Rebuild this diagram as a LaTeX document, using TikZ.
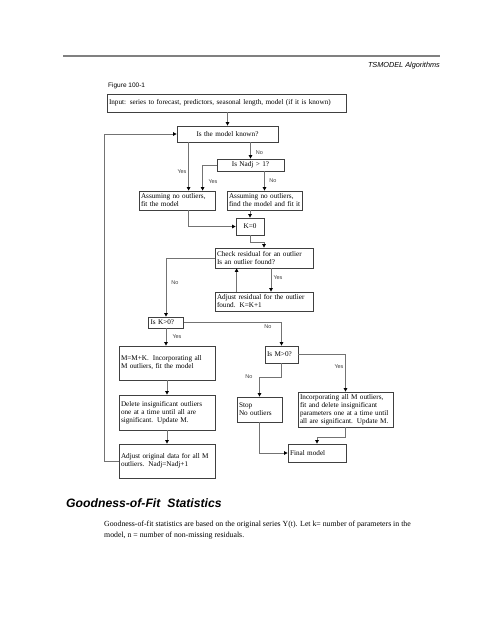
\documentclass[tikz,border=0pt]{standalone}
\usepackage{fontspec}
\setmainfont{Liberation Serif}
\setsansfont{Liberation Sans}
\usetikzlibrary{arrows.meta,calc}
\begin{document}
\begin{tikzpicture}[x=1pt,y=-1pt,
  box/.style={draw=black!75, line width=0.8pt, rectangle, inner xsep=2pt, inner ysep=0pt,
    font=\fontsize{7.2}{8}\selectfont},
  lbox/.style={box, align=left},
  cbox/.style={box, align=center},
  arr/.style={draw=black!55, line width=0.8pt, -{Triangle[length=3.5pt,width=3.5pt,black]}},
  lab/.style={font=\sffamily\fontsize{5.5}{6}\selectfont, text=black!75, inner sep=0pt}]
\fill[white] (0,0) rectangle (495,640);
\useasboundingbox (0,0) rectangle (495,640);

% page header
\coordinate (hl) at (63,56);
\coordinate (hr) at (440,56);
\draw[black!50, line width=2pt] (hl) -- (hr);
\node[anchor=base east, inner sep=0pt, font=\sffamily\itshape\fontsize{7.3}{8}\selectfont] (hdr) at (440,67) {TSMODEL Algorithms};
\node[anchor=base west, inner sep=0pt, font=\sffamily\fontsize{6.5}{7}\selectfont] (fig) at (108,87) {Figure 100-1};

% boxes
\node[lbox, minimum width=239pt, minimum height=18pt, text width=235pt] (input) at (226.5,103)
  {\mbox{Input: series to forecast, predictors, seasonal length, model (if it is known)}};
\node[cbox, minimum width=101pt, minimum height=16pt, text width=97pt] (known) at (227.5,134) {Is the model known?};
\node[cbox, minimum width=67pt, minimum height=12pt, text width=63pt] (nadj) at (250.5,165) {Is Nadj > 1?};
\node[lbox, minimum width=76pt, minimum height=19pt, text width=72pt] (assume) at (177,200.5)
  {\mbox{Assuming no outliers,}\\\mbox{fit the model}};
\node[lbox, minimum width=75pt, minimum height=19pt, text width=71pt] (find) at (264.5,200.5)
  {\mbox{Assuming no outliers,}\\\mbox{find the model and fit it}};
\node[cbox, minimum width=28pt, minimum height=17pt, text width=24pt] (kzero) at (250,226.5) {K=0};
\node[lbox, minimum width=98pt, minimum height=20pt, text width=94pt] (check) at (264,258)
  {\mbox{Check residual for an outlier}\\\mbox{Is an outlier found?}};
\node[lbox, minimum width=98pt, minimum height=19pt, text width=94pt] (adjres) at (264,301.5)
  {\mbox{Adjust residual for the outlier}\\\mbox{found.\hspace{4pt}K=K+1}};
\node[lbox, minimum width=35pt, minimum height=11pt, text width=31pt] (isk) at (166,322.5) {\mbox{Is K>0?}};
\node[lbox, minimum width=96pt, minimum height=34pt, text width=92pt] (mbox) at (167,363)
  {\mbox{M=M+K.\hspace{4pt}Incorporating all}\\\mbox{M outliers, fit the model}};
\node[lbox, minimum width=96pt, minimum height=35pt, text width=92pt] (del) at (167,412.5)
  {\mbox{Delete insignificant outliers}\\\mbox{one at a time until all are}\\\mbox{significant.\hspace{4pt}Update M.}};
\node[lbox, minimum width=96pt, minimum height=34pt, text width=92pt] (adjorig) at (167,461)
  {\mbox{Adjust original data for all M}\\\mbox{outliers.\hspace{4pt}Nadj=Nadj+1}};
\node[lbox, minimum width=33pt, minimum height=17pt, text width=29pt] (ism) at (281.5,354.5) {\mbox{Is M>0?}};
\node[lbox, minimum width=45pt, minimum height=25pt, text width=41pt] (stop) at (259.5,409.5)
  {\mbox{Stop}\\\mbox{No outliers}};
\node[lbox, minimum width=95pt, minimum height=35pt, text width=91pt] (incorp) at (345.5,409.5)
  {\mbox{Incorporating all M outliers,}\\\mbox{fit and delete insignificant}\\\mbox{parameters one at a time until}\\\mbox{all are significant.\hspace{4pt}Update M.}};
\node[lbox, minimum width=58pt, minimum height=18pt, text width=54pt] (final) at (317,453) {\mbox{Final model}};

% connectors
\draw[arr] (known.north |- input.south) -- (known.north);
\draw[arr] (nadj.north |- known.south) -- (nadj.north);
\draw[arr] ([xshift=12pt]known.south west) -- ([xshift=50pt]assume.north west);
\draw[arr] (nadj.west) -| ([xshift=64pt]assume.north west);
\draw[arr] (find.north |- nadj.south) -- (find.north);
\draw[arr] ([xshift=50pt]assume.south west) |- (kzero.west);
\draw[arr] (kzero.north |- find.south) -- (kzero.north);
\draw[arr] (kzero.south) -- ++(0,7) -| (check.north);
\draw[arr] (check.west) -| (isk.north);
\draw[arr] ([xshift=7pt]check.south) -- ([xshift=7pt]adjres.north);
\draw[arr] ([xshift=22pt]adjres.north west) -- ([xshift=22pt]check.south west);
\draw[arr] (isk.south) -- (isk.south |- mbox.north);
\draw[arr] (isk.east) -| (ism.north);
\draw[arr] (mbox.south) -- (del.north);
\draw[arr] (del.south) -- (adjorig.north);
\draw[arr] (adjorig.west) -- ++(-14,0) |- (known.west);
\draw[arr] (ism.south) -- ++(0,14) -| (stop.north);
\draw[arr] (ism.east) -| (incorp.north);
\draw[arr] (incorp.south) -- ++(0,10) -| (final.north);
\draw[arr] (stop.south) |- (final.west);

% labels
\node[lab] (l1) at (259.5,153) {No};
\node[lab] (l2) at (182,172) {Yes};
\node[lab] (l3) at (213,182) {Yes};
\node[lab] (l4) at (273,181) {No};
\node[lab] (l5) at (175,283) {No};
\node[lab] (l6) at (278,278) {Yes};
\node[lab] (l7) at (177,337) {Yes};
\node[lab] (l8) at (268,327) {No};
\node[lab] (l9) at (249,377) {No};
\node[lab] (l10) at (339,367) {Yes};

% section heading and body text
\node[anchor=base west, inner sep=0pt, font=\sffamily\bfseries\itshape\fontsize{12.2}{14}\selectfont] (head) at (66,507)
  {Goodness-of-Fit\hspace{7pt}Statistics};
\node[anchor=base west, inner sep=0pt, font=\fontsize{7.8}{9}\selectfont] (body1) at (104,526)
  {Goodness-of-fit statistics are based on the original series Y(t). Let k= number of parameters in the};
\node[anchor=base west, inner sep=0pt, font=\fontsize{7.8}{9}\selectfont] (body2) at (104,537)
  {model, n = number of non-missing residuals.};
\end{tikzpicture}
\end{document}
